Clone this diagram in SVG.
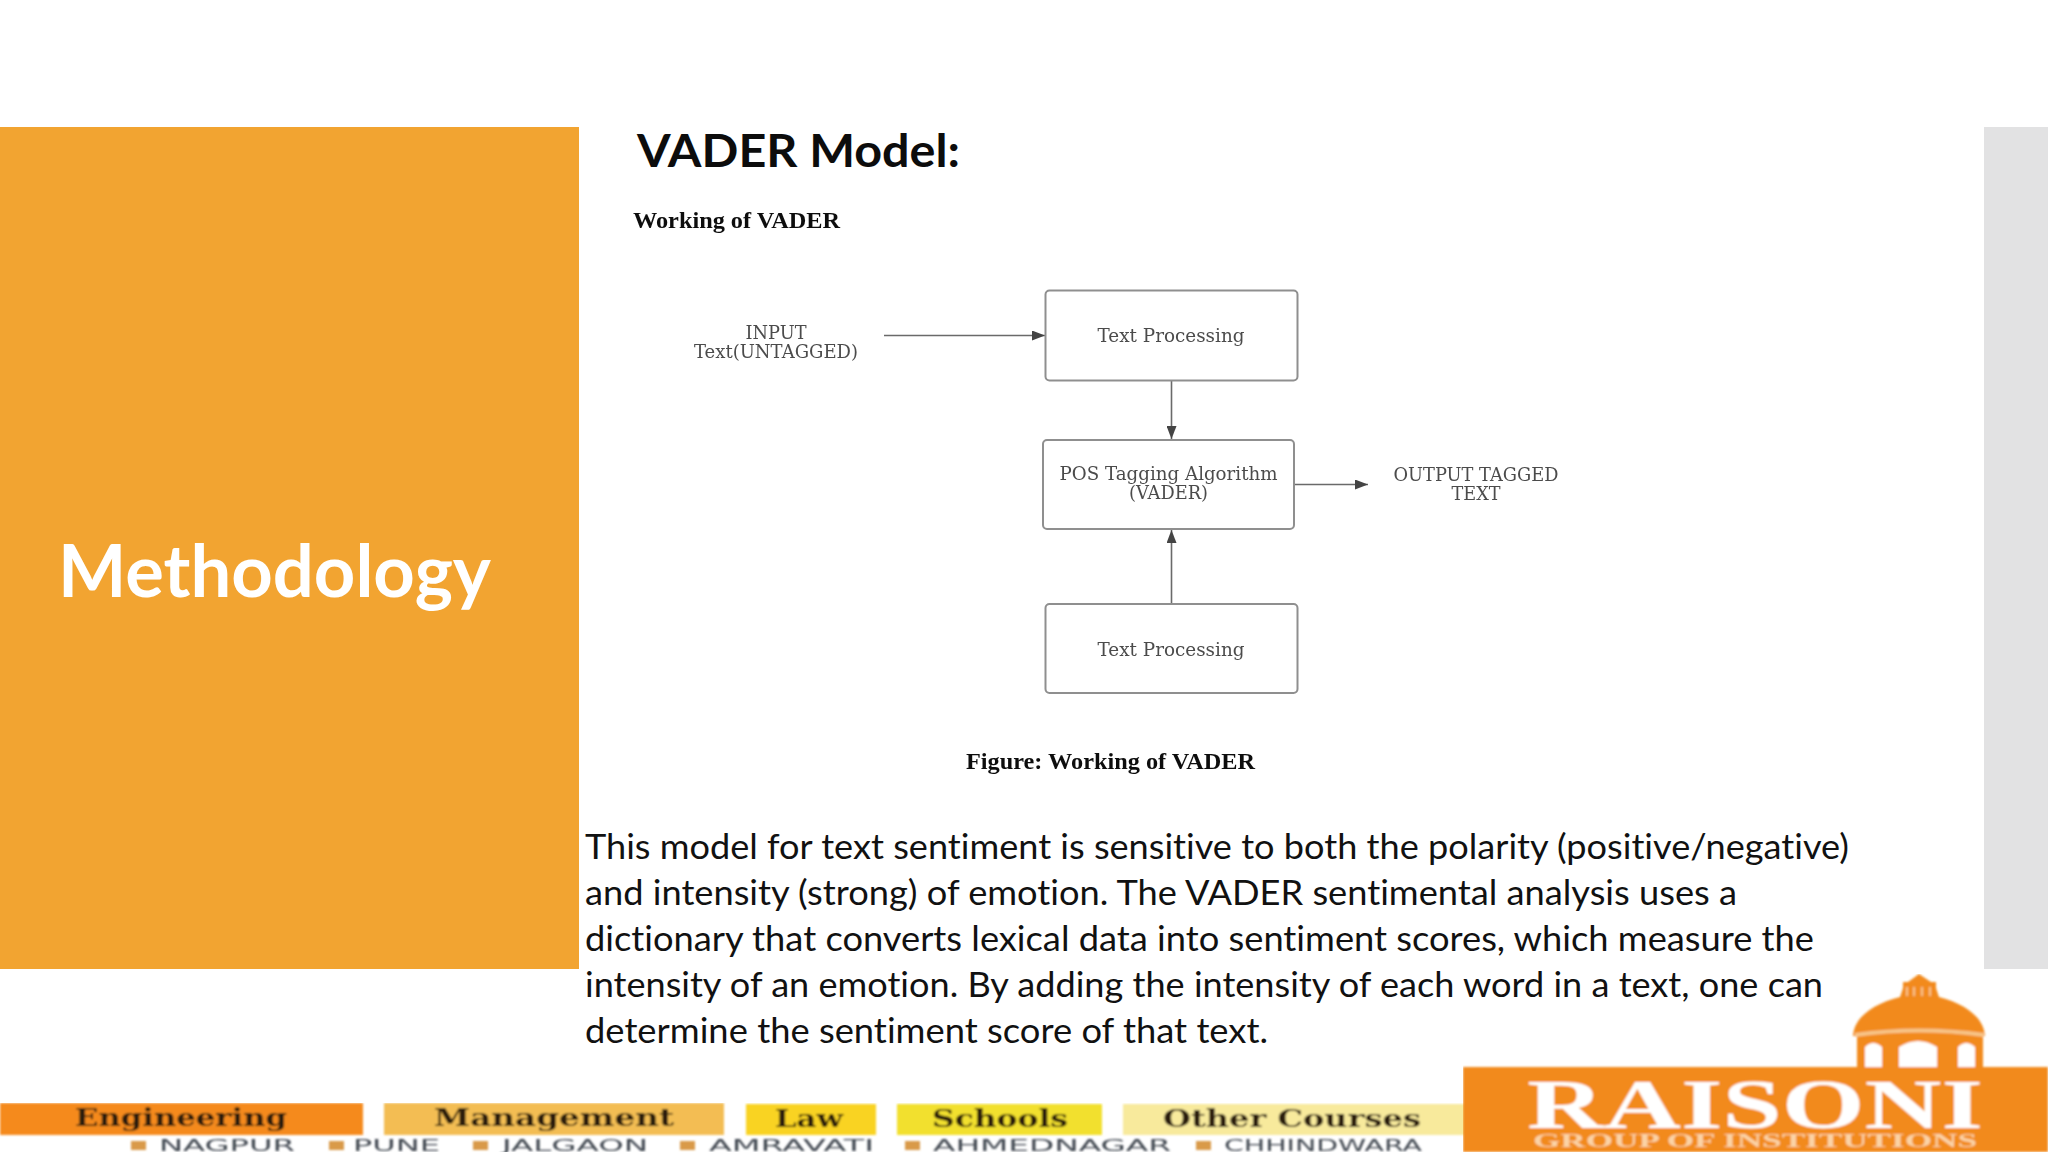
<svg xmlns="http://www.w3.org/2000/svg" width="2048" height="1152" viewBox="0 0 2048 1152">
<style>
.lato{font-family:Lato,"Open Sans",sans-serif;font-variant-ligatures:none}
.dt{font-family:"DejaVu Serif","Liberation Serif",serif;font-size:18px;fill:#4c4c4c;text-anchor:middle;filter:url(#faint)}
.fig{font-family:"Liberation Serif",serif;font-weight:700;font-size:24px;fill:#111;filter:url(#faint)}
.para{font-family:Lato,"Open Sans",sans-serif;font-size:35px;fill:#111;font-variant-ligatures:none}
.box{fill:#fff;stroke:#8f8f8f;stroke-width:2;filter:url(#faint)}
.conn{stroke:#6a6a6a;stroke-width:1.6;fill:none;marker-end:url(#ah)}
.bar{font-family:"DejaVu Serif",serif;font-weight:700;font-size:24px;fill:#2a1c08;text-anchor:middle}
.city{font-family:"DejaVu Sans",sans-serif;font-size:16px;fill:#3f4650}
.sq{fill:#d99a4a}
</style>
<defs>
<marker id="ah" markerUnits="userSpaceOnUse" markerWidth="14" markerHeight="10" refX="13" refY="5" orient="auto"><path d="M0 0L13 5L0 10Z" fill="#444"/></marker>
<filter id="soft" x="0" y="0" width="1" height="1"><feGaussianBlur stdDeviation="0.8"/></filter>
<filter id="faint" x="-0.05" y="-0.2" width="1.1" height="1.4"><feGaussianBlur stdDeviation="0.45"/></filter>
</defs>
<rect width="2048" height="1152" fill="#fff"/>
<rect id="panel" x="0" y="127" width="579" height="842" fill="#f2a431"/>
<rect id="side" x="1984" y="127" width="64" height="842" fill="#e2e2e3"/>
<text class="lato" x="58" y="597" font-size="72" font-weight="700" fill="#fff" textLength="433" lengthAdjust="spacingAndGlyphs">Methodology</text>
<text class="lato" x="637" y="167" font-size="45" font-weight="700" fill="#0c0c0c" textLength="323" lengthAdjust="spacingAndGlyphs">VADER Model:</text>
<text class="fig" x="633" y="228" textLength="207" lengthAdjust="spacingAndGlyphs">Working of VADER</text>
<g id="connectors">
<line class="conn" x1="884" y1="335.5" x2="1045" y2="335.5"/>
<line class="conn" x1="1171.500" y1="380" x2="1171.500" y2="439"/>
<line class="conn" x1="1294" y1="484.500" x2="1368" y2="484.500"/>
<line class="conn" x1="1171.500" y1="604" x2="1171.500" y2="530"/>
</g>
<g id="input"><text class="dt" x="776" y="339" textLength="61" lengthAdjust="spacingAndGlyphs">INPUT</text><text class="dt" x="776" y="358" textLength="164" lengthAdjust="spacingAndGlyphs">Text(UNTAGGED)</text></g>
<g id="textproc1"><rect class="box" x="1045.500" y="290.500" width="252" height="90" rx="4"/><text class="dt" x="1171" y="342" textLength="147" lengthAdjust="spacingAndGlyphs">Text Processing</text></g>
<g id="pos"><rect class="box" x="1043" y="440" width="251" height="89" rx="4"/><text class="dt" x="1168.500" y="480" textLength="218" lengthAdjust="spacingAndGlyphs">POS Tagging Algorithm</text><text class="dt" x="1168.500" y="499" textLength="79" lengthAdjust="spacingAndGlyphs">(VADER)</text></g>
<g id="output"><text class="dt" x="1476" y="481" textLength="165" lengthAdjust="spacingAndGlyphs">OUTPUT TAGGED</text><text class="dt" x="1476" y="500" textLength="49" lengthAdjust="spacingAndGlyphs">TEXT</text></g>
<g id="textproc2"><rect class="box" x="1045.500" y="604" width="252" height="89" rx="4"/><text class="dt" x="1171" y="656" textLength="147" lengthAdjust="spacingAndGlyphs">Text Processing</text></g>
<text class="fig" x="966" y="769" textLength="289" lengthAdjust="spacingAndGlyphs">Figure: Working of VADER</text>
<g id="body">
<text class="para" x="585" y="858.500" textLength="1264" lengthAdjust="spacingAndGlyphs">This model for text sentiment is sensitive to both the polarity (positive/negative)</text>
<text class="para" x="585" y="904.500" textLength="1152" lengthAdjust="spacingAndGlyphs">and intensity (strong) of emotion. The VADER sentimental analysis uses a</text>
<text class="para" x="585" y="950.500" textLength="1229" lengthAdjust="spacingAndGlyphs">dictionary that converts lexical data into sentiment scores, which measure the</text>
<text class="para" x="585" y="996.500" textLength="1238" lengthAdjust="spacingAndGlyphs">intensity of an emotion. By adding the intensity of each word in a text, one can</text>
<text class="para" x="585" y="1042.500" textLength="683" lengthAdjust="spacingAndGlyphs">determine the sentiment score of that text.</text>
</g>
<g id="footer" filter="url(#soft)">
<rect x="0" y="1103" width="363" height="32" fill="#f58a1f"/>
<rect x="384" y="1103" width="340" height="32" fill="#f3bd52"/>
<rect x="746" y="1104" width="130" height="31" fill="#f9d320"/>
<rect x="897" y="1104" width="205" height="31" fill="#f2e02e"/>
<rect x="1123" y="1104" width="345" height="31" fill="#f8ea9c"/>
<text class="bar" x="181" y="1126" textLength="212" lengthAdjust="spacingAndGlyphs">Engineering</text>
<text class="bar" x="554" y="1126" textLength="240" lengthAdjust="spacingAndGlyphs">Management</text>
<text class="bar" x="809" y="1127" textLength="68" lengthAdjust="spacingAndGlyphs">Law</text>
<text class="bar" x="1000" y="1127" textLength="136" lengthAdjust="spacingAndGlyphs">Schools</text>
<text class="bar" x="1292" y="1127" textLength="258" lengthAdjust="spacingAndGlyphs">Other Courses</text>
<rect class="sq" x="131" y="1141" width="15" height="9"/><text class="city" x="159" y="1151" textLength="136" lengthAdjust="spacingAndGlyphs">NAGPUR</text>
<rect class="sq" x="329" y="1141" width="15" height="9"/><text class="city" x="353" y="1151" textLength="87" lengthAdjust="spacingAndGlyphs">PUNE</text>
<rect class="sq" x="473" y="1141" width="15" height="9"/><text class="city" x="502" y="1151" textLength="146" lengthAdjust="spacingAndGlyphs">JALGAON</text>
<rect class="sq" x="680" y="1141" width="15" height="9"/><text class="city" x="709" y="1151" textLength="165" lengthAdjust="spacingAndGlyphs">AMRAVATI</text>
<rect class="sq" x="905" y="1141" width="15" height="9"/><text class="city" x="933" y="1151" textLength="238" lengthAdjust="spacingAndGlyphs">AHMEDNAGAR</text>
<rect class="sq" x="1196" y="1141" width="15" height="9"/><text class="city" x="1224" y="1151" textLength="198" lengthAdjust="spacingAndGlyphs">CHHINDWARA</text>
</g>
<g id="logo" filter="url(#soft)">
<path d="M1463 1067H2048V1152H1463Z" fill="#f28a1e"/>
<path d="M1857 1067V1036H1983V1067Z" fill="#f28a1e"/>
<path d="M1853 1036C1854 1018 1872 1004 1900 997L1903 988V982H1908L1919 974L1931 982H1936V988L1939 997C1966 1004 1984 1018 1985 1036Z" fill="#f28a1e"/>
<path d="M1855 1035Q1919 1026 1984 1035" stroke="#f8c487" stroke-width="4" fill="none"/>
<path d="M1865 1067V1047Q1873 1039 1882 1047V1067ZM1899 1067V1047Q1918 1035 1937 1047V1067ZM1958 1067V1047Q1966 1039 1975 1047V1067Z" fill="#fff"/>
<path d="M1907 996V987M1914 996V987M1922 996V987M1930 996V987" stroke="#f8c487" stroke-width="2"/>
<text x="1527" y="1128" font-family="Liberation Serif,serif" font-size="70" font-weight="700" fill="#fff" textLength="456" lengthAdjust="spacingAndGlyphs">RAISONI</text>
<text x="1533" y="1147" font-family="Liberation Serif,serif" font-size="19" font-weight="700" fill="#fbd3a6" textLength="444" lengthAdjust="spacingAndGlyphs">GROUP OF INSTITUTIONS</text>
</g>
</svg>
